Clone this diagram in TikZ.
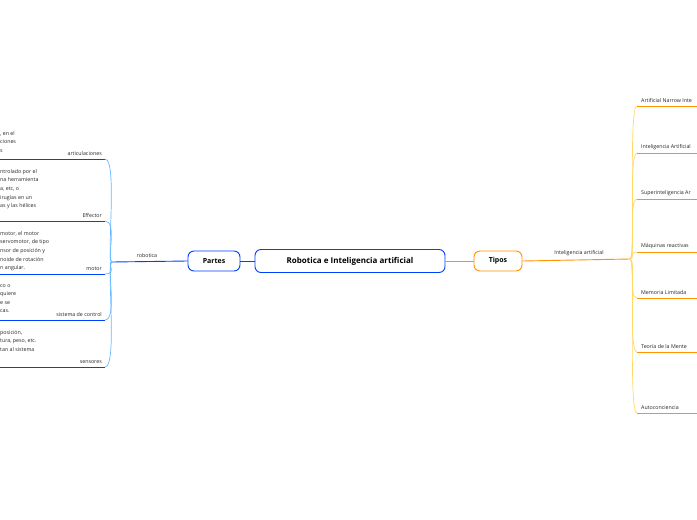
\documentclass[tikz,border=0pt]{standalone}
\usepackage{fontspec}
\setmainfont{Open Sans}
\begin{document}
\begin{tikzpicture}[x=1pt,y=-1pt,
  bl/.style={draw=blue!75!cyan, line width=0.9pt},
  blt/.style={draw=blue!45!cyan!60, line width=0.7pt},
  or/.style={draw=orange!85!yellow, line width=0.9pt},
  ort/.style={draw=orange!50!yellow!60, line width=0.7pt},
  lbl/.style={font=\fontsize{5.3pt}{6pt}\selectfont, text=black!85, inner sep=0pt},
  blk/.style={font=\fontsize{5.3pt}{8.6pt}\selectfont, text=black!85, inner sep=0pt, align=left, anchor=north west}]
\useasboundingbox (0,0) rectangle (697,520);
\fill[white] (0,0) rectangle (697,520);
\node[draw=blue!75!cyan, line width=0.9pt, rounded corners=6pt, minimum width=190pt, minimum height=23pt, font=\bfseries\fontsize{8pt}{9pt}\selectfont] (c) at (350,261) {Robotica e Inteligencia artificial};
\node[draw=blue!75!cyan, line width=0.9pt, rounded corners=6pt, minimum width=52pt, minimum height=20pt, font=\bfseries\fontsize{7pt}{8pt}\selectfont] (p) at (214,261) {Partes};
\node[draw=orange!85!yellow, line width=0.9pt, rounded corners=6pt, minimum width=48pt, minimum height=20pt, font=\bfseries\fontsize{7pt}{8pt}\selectfont] (t) at (498,261) {Tipos};
\draw[bl] (c.west) -- (p.east);
\draw[or] (c.east) -- (t.west);
% left
\coordinate (r) at (112,262);
\draw[bl] (p.west) -- (r);
\node[lbl] (rt) at (147,256) {robotica};
\foreach \y/\n/\tx in {159/a/articulaciones,221/e/Effector,274/m/motor,320/s/sistema de control,367/n/sensores}{
  \coordinate (\n) at (105,\y);
  \draw[blt] (r) .. controls (106,262) and (118,\y) .. (\n);
  \draw[bl] (\n) -- (0,\y);
  \node[lbl, anchor=south east] at (102,\y-3) {\tx};
}
\node[blk] at (0,131) {, en el\\ciones\\s};
\node[blk] at (0,169) {ntrolado por el\\na herramienta\\a, etc, o\\irugías en un\\as y las hélices};
\node[blk] at (0,231) {motor, el motor\\servomotor, de tipo\\nsor de posición y\\noide de rotación\\n angular.};
\node[blk] at (0,284) {co o\\quiere\\e se\\cas.};
\node[blk] at (0,330) {posición,\\tura, peso, etc.\\tan al sistema};
% right
\coordinate (q) at (630,259);
\draw[or] (t.east) -- (q);
\node[lbl] at (579,253) {Inteligencia artificial};
\foreach \y/\n/\tx in {106/k1/Artificial Narrow Inte,153/k2/Inteligencia Artificial,199/k3/Superinteligencia Ar,252/k4/Máquinas reactivas,298/k5/Memoria Limitada,352/k6/Teoría de la Mente,413/k7/Autoconciencia}{
  \coordinate (\n) at (637,\y);
  \draw[ort] (q) .. controls (636,259) and (628,\y) .. (\n);
  \draw[or] (\n) -- (697,\y);
  \node[lbl, anchor=south west] at (641,\y-3) {\tx};
}
\end{tikzpicture}
\end{document}
